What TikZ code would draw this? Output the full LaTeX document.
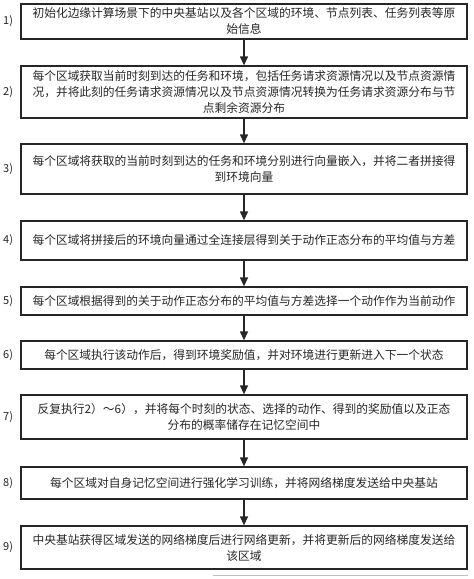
\documentclass[tikz,border=0pt]{standalone}
\usepackage{fontspec}
\setmainfont{Noto Sans CJK SC}
\usetikzlibrary{arrows.meta}
\begin{document}
\begin{tikzpicture}[x=1pt,y=-1pt,
  stepbox/.style={draw=black!85,line width=1.3pt,minimum width=446pt,inner sep=0pt,
    align=center,text=black!85,font=\fontsize{11.75pt}{16pt}\selectfont},
  numlabel/.style={text=black!85,font=\fontsize{11pt}{13pt}\selectfont,inner sep=0pt},
  flow/.style={draw=black!85,line width=1.3pt,-{Triangle[length=9pt,width=8pt]}}]
\useasboundingbox (0,0) rectangle (474,579);
\node[stepbox,minimum height=35pt] (b1) at (244,21.5) {初始化边缘计算场景下的中央基站以及各个区域的环境、节点列表、任务列表等原\\始信息};
\node[stepbox,minimum height=52pt] (b2) at (244,92) {每个区域获取当前时刻到达的任务和环境，包括任务请求资源情况以及节点资源情\\况，并将此刻的任务请求资源情况以及节点资源情况转换为任务请求资源分布与节\\点剩余资源分布};
\node[stepbox,minimum height=50pt] (b3) at (244,169) {每个区域将获取的当前时刻到达的任务和环境分别进行向量嵌入，并将二者拼接得\\到环境向量};
\node[stepbox,minimum height=39pt] (b4) at (244,240.5) {每个区域将拼接后的环境向量通过全连接层得到关于动作正态分布的平均值与方差};
\node[stepbox,minimum height=28pt] (b5) at (244,301) {每个区域根据得到的关于动作正态分布的平均值与方差选择一个动作作为当前动作};
\node[stepbox,minimum height=28pt] (b6) at (244,355) {每个区域执行该动作后，得到环境奖励值，并对环境进行更新进入下一个状态};
\node[stepbox,minimum height=44pt] (b7) at (244,417) {反复执行2）～6），并将每个时刻的状态、选择的动作、得到的奖励值以及正态\\分布的概率储存在记忆空间中};
\node[stepbox,minimum height=32pt] (b8) at (244,483) {每个区域对自身记忆空间进行强化学习训练，并将网络梯度发送给中央基站};
\node[stepbox,minimum height=43pt] (b9) at (244,547.5) {中央基站获得区域发送的网络梯度后进行网络更新，并将更新后的网络梯度发送给\\该区域};
\foreach \i in {1,...,9} {
  \node[numlabel,anchor=west] (l\i) at (3,0 |- b\i.center) {\i)};
}
\foreach \a/\b in {1/2,2/3,3/4,4/5,5/6,6/7,7/8,8/9} {
  \draw[flow] (b\a.south) -- (b\b.north);
}
\coordinate (g1) at (213,575.5);
\coordinate (g2) at (468,575.5);
\draw[black!25,line width=1.5pt] (g1) -- (g2);
\end{tikzpicture}
\end{document}
